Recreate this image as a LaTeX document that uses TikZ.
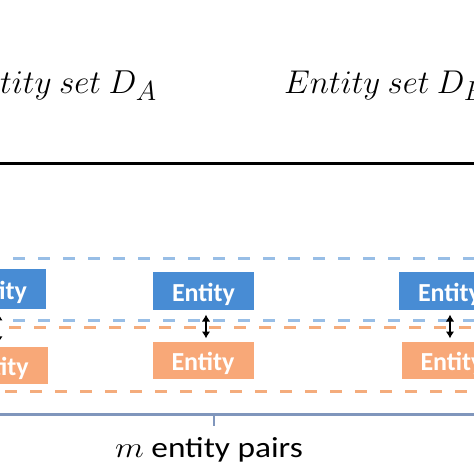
\documentclass[tikz,border=0pt]{standalone}
\usepackage{fontspec}
\setmainfont{Carlito}
\usetikzlibrary{arrows.meta}
\definecolor{boxblue}{RGB}{72,140,212}
\definecolor{boxorange}{RGB}{248,168,120}
\definecolor{dashblue}{RGB}{152,190,230}
\definecolor{dashorange}{RGB}{244,172,124}
\definecolor{bracecol}{RGB}{128,150,188}
\tikzset{
  entbox/.style={draw=none, inner sep=0pt, minimum width=101pt, minimum height=38pt,
    text=white, font=\fontsize{26}{30}\selectfont\bfseries, text height=19.8pt, text depth=0pt},
  bluebox/.style={entbox, fill=boxblue},
  orangebox/.style={entbox, fill=boxorange},
  dashline/.style={line width=3pt, dash pattern=on 12pt off 13pt},
  pairarrow/.style={line width=1.8pt, {Latex[length=7pt,width=8.5pt]}-{Latex[length=7pt,width=8.5pt]}, shorten <=4pt, shorten >=3pt},
  title/.style={inner sep=0pt, font=\fontsize{24.88}{30}\selectfont},
  bracket/.style={line width=2.5pt, draw=bracecol}
}
\begin{document}
\begin{tikzpicture}[x=1pt,y=-1pt]
\useasboundingbox (0,0) rectangle (474,474);
\clip (0,0) rectangle (474,474);
% titles
\node[title, anchor=base east] (tA) at (157,93) {\resizebox{202pt}{!}{$Entity\ set\ D_A$}};
\node[title, anchor=base west] (tB) at (284,93) {\resizebox{202pt}{!}{$Entity\ set\ D_B$}};
% separator
\draw[line width=3pt] (-5,163.5) -- (480,163.5);
% dashed group lines
\draw[dashline, draw=dashblue] (-12,258) -- (480,258);
\draw[dashline, draw=dashblue] (-12,320.5) -- (480,320.5);
\draw[dashline, draw=dashorange] (-16,327.5) -- (480,327.5);
\draw[dashline, draw=dashorange] (-20,391.5) -- (480,391.5);
% entity boxes
\node[bluebox, minimum height=39.7pt] (b1) at (-4.6,289.2) {Entity};
\node[orangebox, minimum height=37.3pt] (o1) at (-2.7,365.3) {Entity};
\node[bluebox] (b2) at (203.5,291.3) {Entity};
\node[orangebox, minimum height=37.6pt] (o2) at (203,360.5) {Entity};
\node[bluebox] (b3) at (449.5,291.3) {Entity};
\node[orangebox, minimum height=37.6pt] (o3) at (452,360.5) {Entity};
% pair arrows
\draw[pairarrow] ([xshift=3pt]b1.south) -- ([xshift=3pt]b1.south |- o1.north);
\draw[pairarrow] ([xshift=2.5pt]b2.south) -- ([xshift=2.5pt]b2.south |- o2.north);
\draw[pairarrow] ([xshift=0.5pt]b3.south) -- ([xshift=0.5pt]b3.south |- o3.north);
% bracket
\coordinate (brL) at (-5,414.5);
\coordinate (brR) at (480,414.5);
\coordinate (brM) at (214,414.5);
\coordinate (brT) at (214,426);
\draw[bracket] (brL) -- (brR);
\draw[bracket, line cap=butt] (brM) -- (brT);
\node[anchor=base, inner sep=0pt, font=\fontsize{29}{34}\selectfont] (lbl) at (209,457)
  {\scalebox{1.15}[1]{\resizebox{25pt}{!}{$m$} entity pairs}};
\end{tikzpicture}
\end{document}
